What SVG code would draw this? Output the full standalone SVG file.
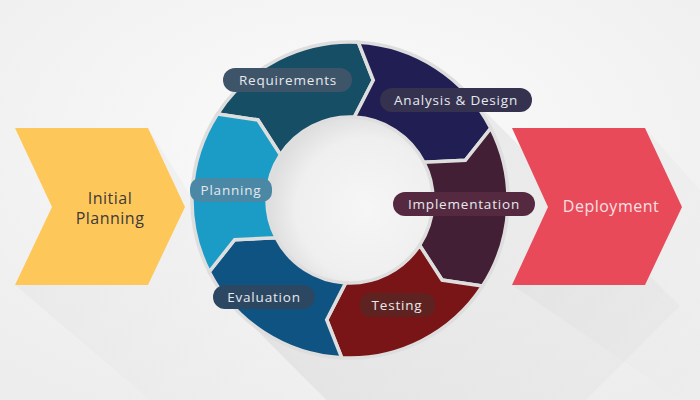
<svg xmlns="http://www.w3.org/2000/svg" width="700" height="400" viewBox="0 0 700 400">
<defs>
<radialGradient id="bg" cx="50%" cy="35%" r="75%">
<stop offset="0" stop-color="#fbfbfb"/>
<stop offset="1" stop-color="#ededed"/>
</radialGradient>
<radialGradient id="hole" cx="60%" cy="55%" r="60%">
<stop offset="0" stop-color="#f6f6f6"/>
<stop offset="0.7" stop-color="#efefef"/>
<stop offset="1" stop-color="#dcdcdc"/>
</radialGradient>
<linearGradient id="sh" x1="0" y1="0" x2="1" y2="1">
<stop offset="0" stop-color="#000" stop-opacity="0.08"/>
<stop offset="1" stop-color="#000" stop-opacity="0"/>
</linearGradient>
<style>
.seg{stroke:#dedede;stroke-width:3.5;stroke-linejoin:miter}
.pill{stroke:none}
.lbl{font-family:"Open Sans","Liberation Sans",sans-serif;font-size:13.5px;fill:#e6e9ee;text-anchor:middle;letter-spacing:0.8px}
.big{font-family:"Open Sans","Liberation Sans",sans-serif;font-size:16px;text-anchor:middle;letter-spacing:0.5px}
</style>
</defs>
<rect width="700" height="400" fill="url(#bg)"/>
<g id="shadows">
<polygon points="461.7,88.3 680,306 456,530 238.3,311.7" fill="url(#sh)"/>
<polygon points="148,128 185,207 148,285 15,285 150,400 320,400" fill="url(#sh)" opacity="0.45"/>
<polygon points="645,128 682,207 645,285 512,285 680,400 700,400 700,190" fill="url(#sh)" opacity="0.45"/>
</g>
<g id="initial-planning">
<polygon points="15,128 148,128 185,207 148,285 15,285 52,207" fill="#fec75a"/>
<text class="big" x="110" y="204" fill="#3d3a3a">Initial</text>
<text class="big" x="110" y="224" fill="#3d3a3a">Planning</text>
</g>
<g id="deployment">
<polygon points="512,128 645,128 682,207 645,285 512,285 548,207" fill="#e84a5a"/>
<text class="big" x="611" y="212" fill="#f8e0e2">Deployment</text>
</g>
<circle cx="350" cy="200" r="84" fill="url(#hole)"/>
<g id="requirements">
<path class="seg" fill="#164e66" d="M 217.49 113.95 A 158 158 0 0 1 358.27 42.22 L 373.28 80.24 L 354.34 117.11 A 83 83 0 0 0 280.39 154.79 L 257.93 119.96 Z"/>
<rect class="pill" x="223" y="68" width="129" height="24" rx="12" fill="#3e5468"/>
<text class="lbl" x="288" y="85">Requirements</text>
</g>
<g id="analysis-design">
<path class="seg" fill="#201e52" d="M 358.27 42.22 A 158 158 0 0 1 490.78 128.27 L 465.35 160.28 L 423.95 162.32 A 83 83 0 0 0 354.34 117.11 L 373.28 80.24 Z"/>
<rect class="pill" x="380" y="88" width="152" height="24" rx="12" fill="#35324f"/>
<text class="lbl" x="456" y="105">Analysis &amp; Design</text>
</g>
<g id="implementation">
<path class="seg" fill="#431f36" d="M 490.78 128.27 A 158 158 0 0 1 482.51 286.05 L 442.07 280.04 L 419.61 245.21 A 83 83 0 0 0 423.95 162.32 L 465.35 160.28 Z"/>
<rect class="pill" x="393" y="192" width="142" height="24" rx="12" fill="#55293f"/>
<text class="lbl" x="464" y="209">Implementation</text>
</g>
<g id="testing">
<path class="seg" fill="#7a1517" d="M 482.51 286.05 A 158 158 0 0 1 341.73 357.78 L 326.72 319.76 L 345.66 282.89 A 83 83 0 0 0 419.61 245.21 L 442.07 280.04 Z"/>
<rect class="pill" x="360" y="293" width="75" height="24" rx="10" fill="#5e2321"/>
<text class="lbl" x="397" y="310">Testing</text>
</g>
<g id="evaluation">
<path class="seg" fill="#0f5383" d="M 341.73 357.78 A 158 158 0 0 1 209.22 271.73 L 234.65 239.72 L 276.05 237.68 A 83 83 0 0 0 345.66 282.89 L 326.72 319.76 Z"/>
<rect class="pill" x="213" y="285" width="102" height="24" rx="12" fill="#2c4762"/>
<text class="lbl" x="264" y="302">Evaluation</text>
</g>
<g id="planning">
<path class="seg" fill="#1b9cc6" d="M 209.22 271.73 A 158 158 0 0 1 217.49 113.95 L 257.93 119.96 L 280.39 154.79 A 83 83 0 0 0 276.05 237.68 L 234.65 239.72 Z"/>
<rect class="pill" x="190" y="178" width="82" height="24" rx="10" fill="#4a88a6"/>
<text class="lbl" x="231" y="195">Planning</text>
</g>
<g id="connectors"/>
</svg>
